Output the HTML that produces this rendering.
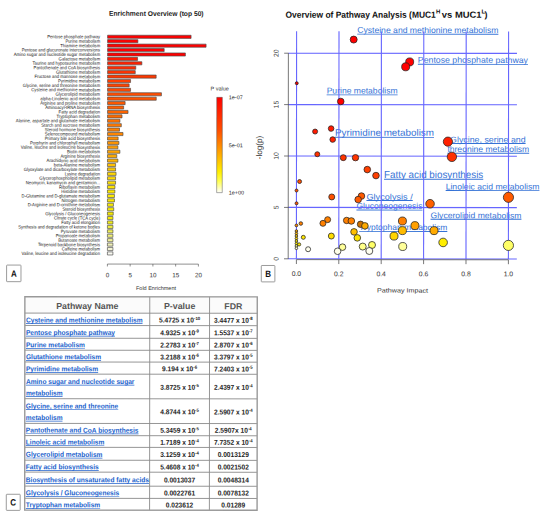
<!DOCTYPE html>
<html><head><meta charset="utf-8"><style>
html,body{margin:0;padding:0;background:#fff;}
svg{display:block;font-family:"Liberation Sans", sans-serif;text-rendering:geometricPrecision;}
</style></head><body>
<svg width="550" height="520" viewBox="0 0 550 520">
<rect width="550" height="520" fill="#fff"/>
<g transform="rotate(0.05 275 260)">
<g id="A">
<text x="108.80" y="16.00" font-size="6.9" fill="#222" font-weight="bold" textLength="94.60" lengthAdjust="spacingAndGlyphs" >Enrichment Overview (top 50)</text>
<rect x="107.4" y="35.35" width="83.5" height="3.1" fill="#ff0000" stroke="#4a4a4a" stroke-width="0.65"/>
<text x="100.00" y="38.50" font-size="4.7" fill="#111" text-anchor="end" textLength="53.01" lengthAdjust="spacingAndGlyphs" >Pentose phosphate pathway</text>
<rect x="107.4" y="39.77" width="30.3" height="3.1" fill="#ff0000" stroke="#4a4a4a" stroke-width="0.65"/>
<text x="100.00" y="42.92" font-size="4.7" fill="#111" text-anchor="end" textLength="34.78" lengthAdjust="spacingAndGlyphs" >Purine metabolism</text>
<rect x="107.4" y="44.19" width="98.5" height="3.1" fill="#ff0000" stroke="#4a4a4a" stroke-width="0.65"/>
<text x="100.00" y="47.34" font-size="4.7" fill="#111" text-anchor="end" textLength="39.92" lengthAdjust="spacingAndGlyphs" >Thiamine metabolism</text>
<rect x="107.4" y="48.62" width="56.6" height="3.1" fill="#ff0000" stroke="#4a4a4a" stroke-width="0.65"/>
<text x="100.00" y="51.77" font-size="4.7" fill="#111" text-anchor="end" textLength="78.45" lengthAdjust="spacingAndGlyphs" >Pentose and glucuronate interconversions</text>
<rect x="107.4" y="53.04" width="77.8" height="3.1" fill="#ff0000" stroke="#4a4a4a" stroke-width="0.65"/>
<text x="100.00" y="56.19" font-size="4.7" fill="#111" text-anchor="end" textLength="86.38" lengthAdjust="spacingAndGlyphs" >Amino sugar and nucleotide sugar metabolism</text>
<rect x="107.4" y="57.46" width="30.0" height="3.1" fill="#ff1900" stroke="#4a4a4a" stroke-width="0.65"/>
<text x="100.00" y="60.61" font-size="4.7" fill="#111" text-anchor="end" textLength="41.55" lengthAdjust="spacingAndGlyphs" >Galactose metabolism</text>
<rect x="107.4" y="61.88" width="34.3" height="3.1" fill="#ff2100" stroke="#4a4a4a" stroke-width="0.65"/>
<text x="100.00" y="65.03" font-size="4.7" fill="#111" text-anchor="end" textLength="67.71" lengthAdjust="spacingAndGlyphs" >Taurine and hypotaurine metabolism</text>
<rect x="107.4" y="66.30" width="28.2" height="3.1" fill="#ff2a00" stroke="#4a4a4a" stroke-width="0.65"/>
<text x="100.00" y="69.45" font-size="4.7" fill="#111" text-anchor="end" textLength="66.55" lengthAdjust="spacingAndGlyphs" >Pantothenate and CoA biosynthesis</text>
<rect x="107.4" y="70.73" width="27.7" height="3.1" fill="#ff3200" stroke="#4a4a4a" stroke-width="0.65"/>
<text x="100.00" y="73.88" font-size="4.7" fill="#111" text-anchor="end" textLength="44.12" lengthAdjust="spacingAndGlyphs" >Glutathione metabolism</text>
<rect x="107.4" y="75.15" width="48.6" height="3.1" fill="#ff3800" stroke="#4a4a4a" stroke-width="0.65"/>
<text x="100.00" y="78.30" font-size="4.7" fill="#111" text-anchor="end" textLength="65.60" lengthAdjust="spacingAndGlyphs" >Fructose and mannose metabolism</text>
<rect x="107.4" y="79.57" width="23.0" height="3.1" fill="#ff3d00" stroke="#4a4a4a" stroke-width="0.65"/>
<text x="100.00" y="82.72" font-size="4.7" fill="#111" text-anchor="end" textLength="42.25" lengthAdjust="spacingAndGlyphs" >Pyrimidine metabolism</text>
<rect x="107.4" y="83.99" width="21.6" height="3.1" fill="#ff4200" stroke="#4a4a4a" stroke-width="0.65"/>
<text x="100.00" y="87.14" font-size="4.7" fill="#111" text-anchor="end" textLength="77.28" lengthAdjust="spacingAndGlyphs" >Glycine, serine and threonine metabolism</text>
<rect x="107.4" y="88.41" width="23.0" height="3.1" fill="#ff4800" stroke="#4a4a4a" stroke-width="0.65"/>
<text x="100.00" y="91.56" font-size="4.7" fill="#111" text-anchor="end" textLength="68.87" lengthAdjust="spacingAndGlyphs" >Cysteine and methionine metabolism</text>
<rect x="107.4" y="92.84" width="53.9" height="3.1" fill="#ff4d00" stroke="#4a4a4a" stroke-width="0.65"/>
<text x="100.00" y="95.99" font-size="4.7" fill="#111" text-anchor="end" textLength="44.58" lengthAdjust="spacingAndGlyphs" >Glycerolipid metabolism</text>
<rect x="107.4" y="97.26" width="48.7" height="3.1" fill="#ff5200" stroke="#4a4a4a" stroke-width="0.65"/>
<text x="100.00" y="100.41" font-size="4.7" fill="#111" text-anchor="end" textLength="59.77" lengthAdjust="spacingAndGlyphs" >alpha-Linolenic acid metabolism</text>
<rect x="107.4" y="101.68" width="17.6" height="3.1" fill="#ff5800" stroke="#4a4a4a" stroke-width="0.65"/>
<text x="100.00" y="104.83" font-size="4.7" fill="#111" text-anchor="end" textLength="60.00" lengthAdjust="spacingAndGlyphs" >Arginine and proline metabolism</text>
<rect x="107.4" y="106.10" width="16.1" height="3.1" fill="#ff5e00" stroke="#4a4a4a" stroke-width="0.65"/>
<text x="100.00" y="109.25" font-size="4.7" fill="#111" text-anchor="end" textLength="54.86" lengthAdjust="spacingAndGlyphs" >Aminoacyl-tRNA biosynthesis</text>
<rect x="107.4" y="110.52" width="20.5" height="3.1" fill="#ff6400" stroke="#4a4a4a" stroke-width="0.65"/>
<text x="100.00" y="113.67" font-size="4.7" fill="#111" text-anchor="end" textLength="41.56" lengthAdjust="spacingAndGlyphs" >Fatty acid degradation</text>
<rect x="107.4" y="114.95" width="14.5" height="3.1" fill="#ff6b00" stroke="#4a4a4a" stroke-width="0.65"/>
<text x="100.00" y="118.10" font-size="4.7" fill="#111" text-anchor="end" textLength="43.73" lengthAdjust="spacingAndGlyphs" >Tryptophan metabolism</text>
<rect x="107.4" y="119.37" width="12.4" height="3.1" fill="#ff7100" stroke="#4a4a4a" stroke-width="0.65"/>
<text x="100.00" y="122.52" font-size="4.7" fill="#111" text-anchor="end" textLength="84.29" lengthAdjust="spacingAndGlyphs" >Alanine, aspartate and glutamate metabolism</text>
<rect x="107.4" y="123.79" width="13.8" height="3.1" fill="#ff7800" stroke="#4a4a4a" stroke-width="0.65"/>
<text x="100.00" y="126.94" font-size="4.7" fill="#111" text-anchor="end" textLength="58.83" lengthAdjust="spacingAndGlyphs" >Starch and sucrose metabolism</text>
<rect x="107.4" y="128.21" width="12.0" height="3.1" fill="#ff7f00" stroke="#4a4a4a" stroke-width="0.65"/>
<text x="100.00" y="131.36" font-size="4.7" fill="#111" text-anchor="end" textLength="55.33" lengthAdjust="spacingAndGlyphs" >Steroid hormone biosynthesis</text>
<rect x="107.4" y="132.63" width="15.5" height="3.1" fill="#ff8600" stroke="#4a4a4a" stroke-width="0.65"/>
<text x="100.00" y="135.78" font-size="4.7" fill="#111" text-anchor="end" textLength="55.33" lengthAdjust="spacingAndGlyphs" >Selenocompound metabolism</text>
<rect x="107.4" y="137.06" width="10.6" height="3.1" fill="#ff8d00" stroke="#4a4a4a" stroke-width="0.65"/>
<text x="100.00" y="140.21" font-size="4.7" fill="#111" text-anchor="end" textLength="55.32" lengthAdjust="spacingAndGlyphs" >Primary bile acid biosynthesis</text>
<rect x="107.4" y="141.48" width="11.4" height="3.1" fill="#ff9400" stroke="#4a4a4a" stroke-width="0.65"/>
<text x="100.00" y="144.63" font-size="4.7" fill="#111" text-anchor="end" textLength="70.04" lengthAdjust="spacingAndGlyphs" >Porphyrin and chlorophyll metabolism</text>
<rect x="107.4" y="145.90" width="10.4" height="3.1" fill="#ff9c00" stroke="#4a4a4a" stroke-width="0.65"/>
<text x="100.00" y="149.05" font-size="4.7" fill="#111" text-anchor="end" textLength="79.31" lengthAdjust="spacingAndGlyphs" >Valine, leucine and isoleucine biosynthesis</text>
<rect x="107.4" y="150.32" width="12.4" height="3.1" fill="#ffa400" stroke="#4a4a4a" stroke-width="0.65"/>
<text x="100.00" y="153.47" font-size="4.7" fill="#111" text-anchor="end" textLength="33.15" lengthAdjust="spacingAndGlyphs" >Biotin metabolism</text>
<rect x="107.4" y="154.74" width="9.3" height="3.1" fill="#ffac00" stroke="#4a4a4a" stroke-width="0.65"/>
<text x="100.00" y="157.89" font-size="4.7" fill="#111" text-anchor="end" textLength="39.69" lengthAdjust="spacingAndGlyphs" >Arginine biosynthesis</text>
<rect x="107.4" y="159.17" width="10.4" height="3.1" fill="#ffb400" stroke="#4a4a4a" stroke-width="0.65"/>
<text x="100.00" y="162.32" font-size="4.7" fill="#111" text-anchor="end" textLength="53.46" lengthAdjust="spacingAndGlyphs" >Arachidonic acid metabolism</text>
<rect x="107.4" y="163.59" width="8.1" height="3.1" fill="#ffc000" stroke="#4a4a4a" stroke-width="0.65"/>
<text x="100.00" y="166.74" font-size="4.7" fill="#111" text-anchor="end" textLength="46.23" lengthAdjust="spacingAndGlyphs" >beta-Alanine metabolism</text>
<rect x="107.4" y="168.01" width="8.1" height="3.1" fill="#ffcb00" stroke="#4a4a4a" stroke-width="0.65"/>
<text x="100.00" y="171.16" font-size="4.7" fill="#111" text-anchor="end" textLength="76.34" lengthAdjust="spacingAndGlyphs" >Glyoxylate and dicarboxylate metabolism</text>
<rect x="107.4" y="172.43" width="8.6" height="3.1" fill="#ffd700" stroke="#4a4a4a" stroke-width="0.65"/>
<text x="100.00" y="175.58" font-size="4.7" fill="#111" text-anchor="end" textLength="35.34" lengthAdjust="spacingAndGlyphs" >Lysine degradation</text>
<rect x="107.4" y="176.85" width="8.1" height="3.1" fill="#ffdc00" stroke="#4a4a4a" stroke-width="0.65"/>
<text x="100.00" y="180.00" font-size="4.7" fill="#111" text-anchor="end" textLength="60.70" lengthAdjust="spacingAndGlyphs" >Glycerophospholipid metabolism</text>
<rect x="107.4" y="181.28" width="8.1" height="3.1" fill="#ffe100" stroke="#4a4a4a" stroke-width="0.65"/>
<text x="100.00" y="184.43" font-size="4.7" fill="#111" text-anchor="end" textLength="74.24" lengthAdjust="spacingAndGlyphs" >Neomycin, kanamycin and gentamicin...</text>
<rect x="107.4" y="185.70" width="7.5" height="3.1" fill="#ffe600" stroke="#4a4a4a" stroke-width="0.65"/>
<text x="100.00" y="188.85" font-size="4.7" fill="#111" text-anchor="end" textLength="41.08" lengthAdjust="spacingAndGlyphs" >Riboflavin metabolism</text>
<rect x="107.4" y="190.12" width="7.4" height="3.1" fill="#ffeb00" stroke="#4a4a4a" stroke-width="0.65"/>
<text x="100.00" y="193.27" font-size="4.7" fill="#111" text-anchor="end" textLength="38.75" lengthAdjust="spacingAndGlyphs" >Histidine metabolism</text>
<rect x="107.4" y="194.54" width="7.0" height="3.1" fill="#fdeb00" stroke="#4a4a4a" stroke-width="0.65"/>
<text x="100.00" y="197.69" font-size="4.7" fill="#111" text-anchor="end" textLength="78.43" lengthAdjust="spacingAndGlyphs" >D-Glutamine and D-glutamate metabolism</text>
<rect x="107.4" y="198.96" width="7.0" height="3.1" fill="#fceb00" stroke="#4a4a4a" stroke-width="0.65"/>
<text x="100.00" y="202.11" font-size="4.7" fill="#111" text-anchor="end" textLength="38.52" lengthAdjust="spacingAndGlyphs" >Nitrogen metabolism</text>
<rect x="107.4" y="203.39" width="6.0" height="3.1" fill="#faeb00" stroke="#4a4a4a" stroke-width="0.65"/>
<text x="100.00" y="206.54" font-size="4.7" fill="#111" text-anchor="end" textLength="72.37" lengthAdjust="spacingAndGlyphs" >D-Arginine and D-ornithine metabolism</text>
<rect x="107.4" y="207.81" width="6.3" height="3.1" fill="#f8eb00" stroke="#4a4a4a" stroke-width="0.65"/>
<text x="100.00" y="210.96" font-size="4.7" fill="#111" text-anchor="end" textLength="37.59" lengthAdjust="spacingAndGlyphs" >Steroid biosynthesis</text>
<rect x="107.4" y="212.23" width="5.8" height="3.1" fill="#f7eb00" stroke="#4a4a4a" stroke-width="0.65"/>
<text x="100.00" y="215.38" font-size="4.7" fill="#111" text-anchor="end" textLength="54.86" lengthAdjust="spacingAndGlyphs" >Glycolysis / Gluconeogenesis</text>
<rect x="107.4" y="216.65" width="5.5" height="3.1" fill="#f5eb00" stroke="#4a4a4a" stroke-width="0.65"/>
<text x="100.00" y="219.80" font-size="4.7" fill="#111" text-anchor="end" textLength="45.98" lengthAdjust="spacingAndGlyphs" >Citrate cycle (TCA cycle)</text>
<rect x="107.4" y="221.07" width="5.5" height="3.1" fill="#f2ec1e" stroke="#4a4a4a" stroke-width="0.65"/>
<text x="100.00" y="224.22" font-size="4.7" fill="#111" text-anchor="end" textLength="38.76" lengthAdjust="spacingAndGlyphs" >Fatty acid elongation</text>
<rect x="107.4" y="225.50" width="5.5" height="3.1" fill="#f0ee3c" stroke="#4a4a4a" stroke-width="0.65"/>
<text x="100.00" y="228.65" font-size="4.7" fill="#111" text-anchor="end" textLength="81.73" lengthAdjust="spacingAndGlyphs" >Synthesis and degradation of ketone bodies</text>
<rect x="107.4" y="229.92" width="5.5" height="3.1" fill="#f0ef5a" stroke="#4a4a4a" stroke-width="0.65"/>
<text x="100.00" y="233.07" font-size="4.7" fill="#111" text-anchor="end" textLength="39.22" lengthAdjust="spacingAndGlyphs" >Pyruvate metabolism</text>
<rect x="107.4" y="234.34" width="5.5" height="3.1" fill="#f0f078" stroke="#4a4a4a" stroke-width="0.65"/>
<text x="100.00" y="237.49" font-size="4.7" fill="#111" text-anchor="end" textLength="44.36" lengthAdjust="spacingAndGlyphs" >Propanoate metabolism</text>
<rect x="107.4" y="238.76" width="5.5" height="3.1" fill="#f0f098" stroke="#4a4a4a" stroke-width="0.65"/>
<text x="100.00" y="241.91" font-size="4.7" fill="#111" text-anchor="end" textLength="41.79" lengthAdjust="spacingAndGlyphs" >Butanoate metabolism</text>
<rect x="107.4" y="243.18" width="5.5" height="3.1" fill="#f0f0b9" stroke="#4a4a4a" stroke-width="0.65"/>
<text x="100.00" y="246.33" font-size="4.7" fill="#111" text-anchor="end" textLength="62.11" lengthAdjust="spacingAndGlyphs" >Terpenoid backbone biosynthesis</text>
<rect x="107.4" y="247.61" width="5.5" height="3.1" fill="#f4f4d4" stroke="#4a4a4a" stroke-width="0.65"/>
<text x="100.00" y="250.76" font-size="4.7" fill="#111" text-anchor="end" textLength="38.21" lengthAdjust="spacingAndGlyphs" >Caffeine metabolism</text>
<rect x="107.4" y="252.03" width="5.5" height="3.1" fill="#f8f8f0" stroke="#4a4a4a" stroke-width="0.65"/>
<text x="100.00" y="255.18" font-size="4.7" fill="#111" text-anchor="end" textLength="78.38" lengthAdjust="spacingAndGlyphs" >Valine, leucine and isoleucine degradation</text>
<path d="M107.4 264.2H198.4M107.4 264.2v2.4M130.15 264.2v2.4M152.9 264.2v2.4M175.65 264.2v2.4M198.4 264.2v2.4" stroke="#444" stroke-width="0.6" fill="none"/>
<text x="107.40" y="277.30" font-size="6.3" fill="#333" text-anchor="middle" >0</text>
<text x="130.15" y="277.30" font-size="6.3" fill="#333" text-anchor="middle" >5</text>
<text x="152.90" y="277.30" font-size="6.3" fill="#333" text-anchor="middle" >10</text>
<text x="175.65" y="277.30" font-size="6.3" fill="#333" text-anchor="middle" >15</text>
<text x="198.40" y="277.30" font-size="6.3" fill="#333" text-anchor="middle" >20</text>
<text x="156.00" y="290.20" font-size="5.5" fill="#333" text-anchor="middle" textLength="40.00" lengthAdjust="spacingAndGlyphs" >Fold Enrichment</text>
<text x="210.40" y="90.60" font-size="5.5" fill="#333" >P value</text>
<defs><linearGradient id="pg" x1="0" y1="0" x2="0" y2="1"><stop offset="0" stop-color="#ff0000"/><stop offset="0.35" stop-color="#ff5000"/><stop offset="0.55" stop-color="#ff9a00"/><stop offset="0.78" stop-color="#ffee00"/><stop offset="0.88" stop-color="#ffff50"/><stop offset="1" stop-color="#ffffff"/></linearGradient></defs>
<rect x="216.6" y="97.4" width="5.6" height="95.3" fill="url(#pg)" stroke="#555" stroke-width="0.5"/>
<text x="228.60" y="99.30" font-size="5.5" fill="#222" >1e-07</text>
<text x="228.60" y="147.30" font-size="5.5" fill="#222" >5e-01</text>
<text x="228.60" y="194.60" font-size="5.5" fill="#222" >1e+00</text>
</g>
<rect x="6.6" y="265.3" width="14.4" height="16.6" rx="0.6" fill="#fff" stroke="#8a8a8a" stroke-width="0.85"/>
<text x="10.91" y="276.90" font-size="9.2" fill="#111" font-weight="bold" textLength="5.77" lengthAdjust="spacingAndGlyphs" >A</text>
<rect x="261.3" y="265.5" width="13.6" height="16.4" rx="0.6" fill="#fff" stroke="#8a8a8a" stroke-width="0.85"/>
<text x="265.21" y="277.00" font-size="9.2" fill="#111" font-weight="bold" textLength="5.77" lengthAdjust="spacingAndGlyphs" >B</text>
<rect x="6.5" y="494.5" width="13.9" height="16.1" rx="0.6" fill="#fff" stroke="#8a8a8a" stroke-width="0.85"/>
<text x="10.56" y="505.85" font-size="9.2" fill="#111" font-weight="bold" textLength="5.77" lengthAdjust="spacingAndGlyphs" >C</text>
<g id="B">
<text x="285.30" y="17.70" font-size="8.9" fill="#111" font-weight="bold" textLength="150.30" lengthAdjust="spacingAndGlyphs" >Overview of Pathway Analysis (MUC1</text>
<text x="435.80" y="13.40" font-size="6.0" fill="#111" font-weight="bold" >H</text>
<text x="441.60" y="17.70" font-size="8.9" fill="#111" font-weight="bold" textLength="39.80" lengthAdjust="spacingAndGlyphs" > vs MUC1</text>
<text x="481.30" y="13.40" font-size="6.0" fill="#111" font-weight="bold" >L</text>
<text x="484.40" y="17.70" font-size="8.9" fill="#111" font-weight="bold" >)</text>
<text x="357.00" y="32.80" font-size="8.4" fill="#3472d6" textLength="141.20" lengthAdjust="spacingAndGlyphs" >Cysteine and methionine metabolism</text>
<rect x="357.00" y="33.65" width="141.20" height="0.9" fill="#3472d6"/>
<text x="417.70" y="62.70" font-size="8.4" fill="#3472d6" textLength="110.10" lengthAdjust="spacingAndGlyphs" >Pentose phosphate pathway</text>
<rect x="417.70" y="63.75" width="110.10" height="0.9" fill="#3472d6"/>
<text x="326.50" y="93.50" font-size="8.4" fill="#3472d6" textLength="71.00" lengthAdjust="spacingAndGlyphs" >Purine metabolism</text>
<rect x="326.50" y="94.35" width="71.00" height="0.9" fill="#3472d6"/>
<text x="334.80" y="135.60" font-size="9.4" fill="#3472d6" textLength="99.10" lengthAdjust="spacingAndGlyphs" >Pyrimidine metabolism</text>
<rect x="334.80" y="136.75" width="99.10" height="0.9" fill="#3472d6"/>
<text x="450.00" y="142.40" font-size="8.4" fill="#3472d6" textLength="75.50" lengthAdjust="spacingAndGlyphs" >Glycine, serine and</text>
<rect x="450.00" y="142.85" width="75.50" height="0.9" fill="#3472d6"/>
<text x="447.30" y="151.80" font-size="8.4" fill="#3472d6" textLength="81.80" lengthAdjust="spacingAndGlyphs" >threonine metabolism</text>
<rect x="447.30" y="152.65" width="81.80" height="0.9" fill="#3472d6"/>
<text x="384.00" y="177.80" font-size="10.2" fill="#3472d6" textLength="99.20" lengthAdjust="spacingAndGlyphs" >Fatty acid biosynthesis</text>
<rect x="384.00" y="178.65" width="99.20" height="0.9" fill="#3472d6"/>
<text x="445.60" y="189.40" font-size="8.4" fill="#3472d6" textLength="93.80" lengthAdjust="spacingAndGlyphs" >Linoleic acid metabolism</text>
<rect x="445.60" y="189.95" width="93.80" height="0.9" fill="#3472d6"/>
<text x="366.40" y="199.60" font-size="8.4" fill="#3472d6" textLength="46.30" lengthAdjust="spacingAndGlyphs" >Glycolysis /</text>
<rect x="366.40" y="199.95" width="46.30" height="0.9" fill="#3472d6"/>
<text x="356.40" y="208.70" font-size="8.4" fill="#3472d6" textLength="66.00" lengthAdjust="spacingAndGlyphs" >Gluconeogenesis</text>
<rect x="356.40" y="209.55" width="66.00" height="0.9" fill="#3472d6"/>
<text x="430.50" y="218.20" font-size="8.4" fill="#3472d6" textLength="90.90" lengthAdjust="spacingAndGlyphs" >Glycerolipid metabolism</text>
<rect x="430.50" y="218.65" width="90.90" height="0.9" fill="#3472d6"/>
<text x="359.10" y="230.00" font-size="8.4" fill="#3472d6" textLength="88.20" lengthAdjust="spacingAndGlyphs" >Tryptophan metabolism</text>
<rect x="359.10" y="230.85" width="88.20" height="0.9" fill="#3472d6"/>
<line x1="296.40" y1="31.3" x2="296.40" y2="258.80" stroke="#6666ff" stroke-width="1.1"/>
<line x1="338.80" y1="31.3" x2="338.80" y2="258.80" stroke="#6666ff" stroke-width="1.1"/>
<line x1="381.20" y1="31.3" x2="381.20" y2="258.80" stroke="#6666ff" stroke-width="1.1"/>
<line x1="423.60" y1="31.3" x2="423.60" y2="258.80" stroke="#6666ff" stroke-width="1.1"/>
<line x1="466.00" y1="31.3" x2="466.00" y2="258.80" stroke="#6666ff" stroke-width="1.1"/>
<line x1="508.40" y1="31.3" x2="508.40" y2="258.80" stroke="#6666ff" stroke-width="1.1"/>
<line x1="288" y1="258.80" x2="516.8" y2="258.80" stroke="#6666ff" stroke-width="1.1"/>
<line x1="288" y1="207.40" x2="516.8" y2="207.40" stroke="#6666ff" stroke-width="1.1"/>
<line x1="288" y1="156.00" x2="516.8" y2="156.00" stroke="#6666ff" stroke-width="1.1"/>
<line x1="288" y1="104.60" x2="516.8" y2="104.60" stroke="#6666ff" stroke-width="1.1"/>
<line x1="288" y1="53.20" x2="516.8" y2="53.20" stroke="#6666ff" stroke-width="1.1"/>
<path d="M288.2 53.2V258.80M284 258.80H288.2M284 207.40H288.2M284 156.00H288.2M284 104.60H288.2M284 53.20H288.2" stroke="#555" stroke-width="0.8" fill="none"/>
<path d="M296.4 259.6H508.40M296.40 259.6V264M338.80 259.6V264M381.20 259.6V264M423.60 259.6V264M466.00 259.6V264M508.40 259.6V264" stroke="#555" stroke-width="0.8" fill="none"/>
<text transform="translate(278.4 258.80) rotate(-90)" x="0" y="0" font-size="6.8" fill="#333" text-anchor="middle">0</text>
<text transform="translate(278.4 207.40) rotate(-90)" x="0" y="0" font-size="6.8" fill="#333" text-anchor="middle">5</text>
<text transform="translate(278.4 156.00) rotate(-90)" x="0" y="0" font-size="6.8" fill="#333" text-anchor="middle">10</text>
<text transform="translate(278.4 104.60) rotate(-90)" x="0" y="0" font-size="6.8" fill="#333" text-anchor="middle">15</text>
<text transform="translate(278.4 53.20) rotate(-90)" x="0" y="0" font-size="6.8" fill="#333" text-anchor="middle">20</text>
<text x="296.40" y="276.10" font-size="6.8" fill="#333" text-anchor="middle" >0.0</text>
<text x="338.80" y="276.10" font-size="6.8" fill="#333" text-anchor="middle" >0.2</text>
<text x="381.20" y="276.10" font-size="6.8" fill="#333" text-anchor="middle" >0.4</text>
<text x="423.60" y="276.10" font-size="6.8" fill="#333" text-anchor="middle" >0.6</text>
<text x="466.00" y="276.10" font-size="6.8" fill="#333" text-anchor="middle" >0.8</text>
<text x="508.40" y="276.10" font-size="6.8" fill="#333" text-anchor="middle" >1.0</text>
<text transform="translate(262.0 147.5) rotate(-90)" x="0" y="0" font-size="8.2" fill="#333" text-anchor="middle">-log(p)</text>
<text x="402.50" y="292.50" font-size="6.2" fill="#333" text-anchor="middle" textLength="51.00" lengthAdjust="spacingAndGlyphs" >Pathway Impact</text>
<circle cx="353.5" cy="39.5" r="3.5" fill="#ff0000" stroke="#222" stroke-width="0.75"/>
<circle cx="409.5" cy="61.8" r="4" fill="#ff0000" stroke="#222" stroke-width="0.75"/>
<circle cx="405.5" cy="66.7" r="4" fill="#ff0000" stroke="#222" stroke-width="0.75"/>
<circle cx="296.6" cy="83.2" r="1.5" fill="#ee0000" stroke="#222" stroke-width="0.75"/>
<circle cx="340.6" cy="101.4" r="3.3" fill="#ff0000" stroke="#222" stroke-width="0.75"/>
<circle cx="315" cy="131.5" r="2.5" fill="#ff1a00" stroke="#222" stroke-width="0.75"/>
<circle cx="331" cy="128.5" r="2.8" fill="#ff1a00" stroke="#222" stroke-width="0.75"/>
<circle cx="332.6" cy="139.5" r="2.8" fill="#ff2000" stroke="#222" stroke-width="0.75"/>
<circle cx="317.2" cy="154.2" r="2.5" fill="#ff3000" stroke="#222" stroke-width="0.75"/>
<circle cx="343.2" cy="157.6" r="3" fill="#ff3300" stroke="#222" stroke-width="0.75"/>
<circle cx="355.4" cy="157.6" r="3.2" fill="#ff3300" stroke="#222" stroke-width="0.75"/>
<circle cx="367.2" cy="169.5" r="3.3" fill="#ff4000" stroke="#222" stroke-width="0.75"/>
<circle cx="375.9" cy="175.5" r="3.3" fill="#ff4000" stroke="#222" stroke-width="0.75"/>
<circle cx="447.8" cy="141.5" r="4.6" fill="#ff2000" stroke="#222" stroke-width="0.75"/>
<circle cx="451.8" cy="156.7" r="4.7" fill="#ff3000" stroke="#222" stroke-width="0.75"/>
<circle cx="299.5" cy="181.5" r="2" fill="#ff5000" stroke="#222" stroke-width="0.75"/>
<circle cx="296.5" cy="190.5" r="1.5" fill="#ff5000" stroke="#222" stroke-width="0.75"/>
<circle cx="296.5" cy="203.3" r="1.5" fill="#ff5500" stroke="#222" stroke-width="0.75"/>
<circle cx="331.7" cy="196.9" r="3" fill="#ff5000" stroke="#222" stroke-width="0.75"/>
<circle cx="361.4" cy="196" r="3.3" fill="#ff5a00" stroke="#222" stroke-width="0.75"/>
<circle cx="358.1" cy="199.5" r="3.3" fill="#ff5a00" stroke="#222" stroke-width="0.75"/>
<circle cx="430" cy="203.6" r="4.3" fill="#ff6000" stroke="#222" stroke-width="0.75"/>
<circle cx="508.4" cy="197.1" r="5.1" fill="#ff5a00" stroke="#222" stroke-width="0.75"/>
<circle cx="327.6" cy="219.6" r="3" fill="#ff8000" stroke="#222" stroke-width="0.75"/>
<circle cx="322.9" cy="223.3" r="3" fill="#ff8000" stroke="#222" stroke-width="0.75"/>
<circle cx="346.6" cy="220.4" r="3.2" fill="#ff8000" stroke="#222" stroke-width="0.75"/>
<circle cx="351.3" cy="220.9" r="3.3" fill="#ff8000" stroke="#222" stroke-width="0.75"/>
<circle cx="360.5" cy="224.2" r="3.2" fill="#cc7000" stroke="#222" stroke-width="0.75"/>
<circle cx="364.9" cy="225.8" r="3.3" fill="#ffaa00" stroke="#222" stroke-width="0.75"/>
<circle cx="300.8" cy="223.5" r="1.8" fill="#ff8000" stroke="#222" stroke-width="0.75"/>
<circle cx="296.4" cy="225.4" r="1.4" fill="#ff8800" stroke="#222" stroke-width="0.75"/>
<circle cx="402.4" cy="220.9" r="4" fill="#ff8000" stroke="#222" stroke-width="0.75"/>
<circle cx="414.9" cy="225.5" r="4" fill="#ffa000" stroke="#222" stroke-width="0.75"/>
<circle cx="402.4" cy="230.5" r="4" fill="#ffbb00" stroke="#222" stroke-width="0.75"/>
<circle cx="434" cy="230.5" r="4" fill="#ffaa00" stroke="#222" stroke-width="0.75"/>
<circle cx="354" cy="231.8" r="3.3" fill="#ffc000" stroke="#222" stroke-width="0.75"/>
<circle cx="357.3" cy="237.8" r="3.3" fill="#ffe600" stroke="#222" stroke-width="0.75"/>
<circle cx="331.3" cy="236" r="3" fill="#ffdd00" stroke="#222" stroke-width="0.75"/>
<circle cx="303.3" cy="237.3" r="2" fill="#ffe600" stroke="#222" stroke-width="0.75"/>
<circle cx="394" cy="236" r="4" fill="#ffd500" stroke="#222" stroke-width="0.75"/>
<circle cx="443.1" cy="242.3" r="4.3" fill="#ffee00" stroke="#222" stroke-width="0.75"/>
<circle cx="402.7" cy="246.4" r="4" fill="#ffff99" stroke="#222" stroke-width="0.75"/>
<circle cx="508.4" cy="245.2" r="5.1" fill="#ffff66" stroke="#222" stroke-width="0.75"/>
<circle cx="296.4" cy="231" r="1.3" fill="#ffaa00" stroke="#222" stroke-width="0.75"/>
<circle cx="296.4" cy="233.5" r="1.3" fill="#ffbb00" stroke="#222" stroke-width="0.75"/>
<circle cx="296.4" cy="236" r="1.3" fill="#ffcc00" stroke="#222" stroke-width="0.75"/>
<circle cx="296.4" cy="238.5" r="1.3" fill="#ffdd00" stroke="#222" stroke-width="0.75"/>
<circle cx="296.4" cy="241" r="1.3" fill="#ffee00" stroke="#222" stroke-width="0.75"/>
<circle cx="296.4" cy="243.5" r="1.3" fill="#ffee00" stroke="#222" stroke-width="0.75"/>
<circle cx="296.4" cy="246" r="1.3" fill="#ffff88" stroke="#222" stroke-width="0.75"/>
<circle cx="296.4" cy="248.3" r="1.3" fill="#ffffcc" stroke="#222" stroke-width="0.75"/>
<circle cx="299.1" cy="244.4" r="1.6" fill="#ffee00" stroke="#222" stroke-width="0.75"/>
<circle cx="308.1" cy="249.2" r="2.5" fill="#ffffee" stroke="#222" stroke-width="0.75"/>
<circle cx="342.5" cy="247.1" r="3.3" fill="#ffff99" stroke="#222" stroke-width="0.75"/>
<circle cx="337.6" cy="251.2" r="3.3" fill="#ffffe8" stroke="#222" stroke-width="0.75"/>
<circle cx="362.7" cy="246.5" r="3.5" fill="#ffff88" stroke="#222" stroke-width="0.75"/>
<circle cx="372" cy="244.9" r="3.5" fill="#ffff66" stroke="#222" stroke-width="0.75"/>
<circle cx="369.3" cy="250.9" r="3.5" fill="#fffff0" stroke="#222" stroke-width="0.75"/>
</g>
<g id="C">
<rect x="24.9" y="296.9" width="232.4" height="16.4" fill="#fbfbfb"/>
<line x1="24.9" y1="313.3" x2="257.3" y2="313.3" stroke="#8a8a8a" stroke-width="0.9"/>
<line x1="24.9" y1="325.7" x2="257.3" y2="325.7" stroke="#8a8a8a" stroke-width="0.9"/>
<line x1="24.9" y1="338.4" x2="257.3" y2="338.4" stroke="#8a8a8a" stroke-width="0.9"/>
<line x1="24.9" y1="350.4" x2="257.3" y2="350.4" stroke="#8a8a8a" stroke-width="0.9"/>
<line x1="24.9" y1="362.2" x2="257.3" y2="362.2" stroke="#8a8a8a" stroke-width="0.9"/>
<line x1="24.9" y1="374.3" x2="257.3" y2="374.3" stroke="#8a8a8a" stroke-width="0.9"/>
<line x1="24.9" y1="398.9" x2="257.3" y2="398.9" stroke="#8a8a8a" stroke-width="0.9"/>
<line x1="24.9" y1="423.6" x2="257.3" y2="423.6" stroke="#8a8a8a" stroke-width="0.9"/>
<line x1="24.9" y1="435.8" x2="257.3" y2="435.8" stroke="#8a8a8a" stroke-width="0.9"/>
<line x1="24.9" y1="447.5" x2="257.3" y2="447.5" stroke="#8a8a8a" stroke-width="0.9"/>
<line x1="24.9" y1="460.4" x2="257.3" y2="460.4" stroke="#8a8a8a" stroke-width="0.9"/>
<line x1="24.9" y1="472.3" x2="257.3" y2="472.3" stroke="#8a8a8a" stroke-width="0.9"/>
<line x1="24.9" y1="486.3" x2="257.3" y2="486.3" stroke="#8a8a8a" stroke-width="0.9"/>
<line x1="24.9" y1="498.5" x2="257.3" y2="498.5" stroke="#8a8a8a" stroke-width="0.9"/>
<line x1="149.8" y1="296.9" x2="149.8" y2="510.3" stroke="#8a8a8a" stroke-width="0.9"/>
<line x1="209.6" y1="296.9" x2="209.6" y2="510.3" stroke="#8a8a8a" stroke-width="0.9"/>
<rect x="24.9" y="296.9" width="232.4" height="213.4" fill="none" stroke="#999" stroke-width="1.4"/>
<text x="87.35" y="309.20" font-size="8.8" fill="#555" font-weight="bold" text-anchor="middle" >Pathway Name</text>
<text x="179.70" y="309.20" font-size="8.8" fill="#555" font-weight="bold" text-anchor="middle" >P-value</text>
<text x="233.45" y="309.20" font-size="8.8" fill="#555" font-weight="bold" text-anchor="middle" >FDR</text>
<text x="26.00" y="322.60" font-size="7.1" fill="#2262cc" font-weight="bold" textLength="116.58" lengthAdjust="spacingAndGlyphs" >Cysteine and methionine metabolism</text>
<rect x="26" y="323.40" width="116.58" height="0.7" fill="#2262cc"/>
<text x="159.16" y="322.70" font-size="7.1" font-weight="bold" fill="#222" textLength="34.87" lengthAdjust="spacingAndGlyphs">5.4725 x 10</text>
<text x="194.03" y="320.10" font-size="4.5" font-weight="bold" fill="#222" textLength="6.22" lengthAdjust="spacingAndGlyphs">-10</text>
<text x="214.10" y="322.70" font-size="7.1" font-weight="bold" fill="#222" textLength="34.87" lengthAdjust="spacingAndGlyphs">3.4477 x 10</text>
<text x="248.97" y="320.10" font-size="4.5" font-weight="bold" fill="#222" textLength="3.82" lengthAdjust="spacingAndGlyphs">-8</text>
<text x="26.00" y="335.15" font-size="7.1" fill="#2262cc" font-weight="bold" textLength="89.09" lengthAdjust="spacingAndGlyphs" >Pentose phosphate pathway</text>
<rect x="26" y="335.95" width="89.09" height="0.7" fill="#2262cc"/>
<text x="160.35" y="335.25" font-size="7.1" font-weight="bold" fill="#222" textLength="34.87" lengthAdjust="spacingAndGlyphs">4.9325 x 10</text>
<text x="195.22" y="332.65" font-size="4.5" font-weight="bold" fill="#222" textLength="3.82" lengthAdjust="spacingAndGlyphs">-9</text>
<text x="214.10" y="335.25" font-size="7.1" font-weight="bold" fill="#222" textLength="34.87" lengthAdjust="spacingAndGlyphs">1.5537 x 10</text>
<text x="248.97" y="332.65" font-size="4.5" font-weight="bold" fill="#222" textLength="3.82" lengthAdjust="spacingAndGlyphs">-7</text>
<text x="26.00" y="347.50" font-size="7.1" fill="#2262cc" font-weight="bold" textLength="59.03" lengthAdjust="spacingAndGlyphs" >Purine metabolism</text>
<rect x="26" y="348.30" width="59.03" height="0.7" fill="#2262cc"/>
<text x="160.35" y="347.60" font-size="7.1" font-weight="bold" fill="#222" textLength="34.87" lengthAdjust="spacingAndGlyphs">2.2783 x 10</text>
<text x="195.22" y="345.00" font-size="4.5" font-weight="bold" fill="#222" textLength="3.82" lengthAdjust="spacingAndGlyphs">-7</text>
<text x="214.10" y="347.60" font-size="7.1" font-weight="bold" fill="#222" textLength="34.87" lengthAdjust="spacingAndGlyphs">2.8707 x 10</text>
<text x="248.97" y="345.00" font-size="4.5" font-weight="bold" fill="#222" textLength="3.82" lengthAdjust="spacingAndGlyphs">-6</text>
<text x="26.00" y="359.40" font-size="7.1" fill="#2262cc" font-weight="bold" textLength="75.15" lengthAdjust="spacingAndGlyphs" >Glutathione metabolism</text>
<rect x="26" y="360.20" width="75.15" height="0.7" fill="#2262cc"/>
<text x="160.35" y="359.50" font-size="7.1" font-weight="bold" fill="#222" textLength="34.87" lengthAdjust="spacingAndGlyphs">3.2188 x 10</text>
<text x="195.22" y="356.90" font-size="4.5" font-weight="bold" fill="#222" textLength="3.82" lengthAdjust="spacingAndGlyphs">-6</text>
<text x="214.10" y="359.50" font-size="7.1" font-weight="bold" fill="#222" textLength="34.87" lengthAdjust="spacingAndGlyphs">3.3797 x 10</text>
<text x="248.97" y="356.90" font-size="4.5" font-weight="bold" fill="#222" textLength="3.82" lengthAdjust="spacingAndGlyphs">-5</text>
<text x="26.00" y="371.35" font-size="7.1" fill="#2262cc" font-weight="bold" textLength="72.23" lengthAdjust="spacingAndGlyphs" >Pyrimidine metabolism</text>
<rect x="26" y="372.15" width="72.23" height="0.7" fill="#2262cc"/>
<text x="162.19" y="371.45" font-size="7.1" font-weight="bold" fill="#222" textLength="31.20" lengthAdjust="spacingAndGlyphs">9.194 x 10</text>
<text x="193.39" y="368.85" font-size="4.5" font-weight="bold" fill="#222" textLength="3.82" lengthAdjust="spacingAndGlyphs">-6</text>
<text x="214.10" y="371.45" font-size="7.1" font-weight="bold" fill="#222" textLength="34.87" lengthAdjust="spacingAndGlyphs">7.2403 x 10</text>
<text x="248.97" y="368.85" font-size="4.5" font-weight="bold" fill="#222" textLength="3.82" lengthAdjust="spacingAndGlyphs">-5</text>
<text x="26.00" y="384.10" font-size="7.1" fill="#2262cc" font-weight="bold" textLength="108.51" lengthAdjust="spacingAndGlyphs" >Amino sugar and nucleotide sugar</text>
<rect x="26" y="384.90" width="108.51" height="0.7" fill="#2262cc"/>
<text x="26.00" y="395.60" font-size="7.1" fill="#2262cc" font-weight="bold" textLength="36.66" lengthAdjust="spacingAndGlyphs" >metabolism</text>
<rect x="26" y="396.40" width="36.66" height="0.7" fill="#2262cc"/>
<text x="160.35" y="389.80" font-size="7.1" font-weight="bold" fill="#222" textLength="34.87" lengthAdjust="spacingAndGlyphs">3.8725 x 10</text>
<text x="195.22" y="387.20" font-size="4.5" font-weight="bold" fill="#222" textLength="3.82" lengthAdjust="spacingAndGlyphs">-5</text>
<text x="214.10" y="389.80" font-size="7.1" font-weight="bold" fill="#222" textLength="34.87" lengthAdjust="spacingAndGlyphs">2.4397 x 10</text>
<text x="248.97" y="387.20" font-size="4.5" font-weight="bold" fill="#222" textLength="3.82" lengthAdjust="spacingAndGlyphs">-4</text>
<text x="26.00" y="408.75" font-size="7.1" fill="#2262cc" font-weight="bold" textLength="92.39" lengthAdjust="spacingAndGlyphs" >Glycine, serine and threonine</text>
<rect x="26" y="409.55" width="92.39" height="0.7" fill="#2262cc"/>
<text x="26.00" y="420.25" font-size="7.1" fill="#2262cc" font-weight="bold" textLength="36.66" lengthAdjust="spacingAndGlyphs" >metabolism</text>
<rect x="26" y="421.05" width="36.66" height="0.7" fill="#2262cc"/>
<text x="160.35" y="414.45" font-size="7.1" font-weight="bold" fill="#222" textLength="34.87" lengthAdjust="spacingAndGlyphs">4.8744 x 10</text>
<text x="195.22" y="411.85" font-size="4.5" font-weight="bold" fill="#222" textLength="3.82" lengthAdjust="spacingAndGlyphs">-5</text>
<text x="214.10" y="414.45" font-size="7.1" font-weight="bold" fill="#222" textLength="34.87" lengthAdjust="spacingAndGlyphs">2.5907 x 10</text>
<text x="248.97" y="411.85" font-size="4.5" font-weight="bold" fill="#222" textLength="3.82" lengthAdjust="spacingAndGlyphs">-4</text>
<text x="26.00" y="432.80" font-size="7.1" fill="#2262cc" font-weight="bold" textLength="112.66" lengthAdjust="spacingAndGlyphs" >Pantothenate and CoA biosynthesis</text>
<rect x="26" y="433.60" width="112.66" height="0.7" fill="#2262cc"/>
<text x="160.35" y="432.90" font-size="7.1" font-weight="bold" fill="#222" textLength="34.87" lengthAdjust="spacingAndGlyphs">5.3459 x 10</text>
<text x="195.22" y="430.30" font-size="4.5" font-weight="bold" fill="#222" textLength="3.82" lengthAdjust="spacingAndGlyphs">-5</text>
<text x="215.02" y="432.90" font-size="7.1" font-weight="bold" fill="#222" textLength="33.03" lengthAdjust="spacingAndGlyphs">2.5907x 10</text>
<text x="248.05" y="430.30" font-size="4.5" font-weight="bold" fill="#222" textLength="3.82" lengthAdjust="spacingAndGlyphs">-4</text>
<text x="26.00" y="444.75" font-size="7.1" fill="#2262cc" font-weight="bold" textLength="78.46" lengthAdjust="spacingAndGlyphs" >Linoleic acid metabolism</text>
<rect x="26" y="445.55" width="78.46" height="0.7" fill="#2262cc"/>
<text x="160.35" y="444.85" font-size="7.1" font-weight="bold" fill="#222" textLength="34.87" lengthAdjust="spacingAndGlyphs">1.7189 x 10</text>
<text x="195.22" y="442.25" font-size="4.5" font-weight="bold" fill="#222" textLength="3.82" lengthAdjust="spacingAndGlyphs">-4</text>
<text x="214.10" y="444.85" font-size="7.1" font-weight="bold" fill="#222" textLength="34.87" lengthAdjust="spacingAndGlyphs">7.7352 x 10</text>
<text x="248.97" y="442.25" font-size="4.5" font-weight="bold" fill="#222" textLength="3.82" lengthAdjust="spacingAndGlyphs">-4</text>
<text x="26.00" y="457.05" font-size="7.1" fill="#2262cc" font-weight="bold" textLength="76.63" lengthAdjust="spacingAndGlyphs" >Glycerolipid metabolism</text>
<rect x="26" y="457.85" width="76.63" height="0.7" fill="#2262cc"/>
<text x="160.35" y="457.15" font-size="7.1" font-weight="bold" fill="#222" textLength="34.87" lengthAdjust="spacingAndGlyphs">3.1259 x 10</text>
<text x="195.22" y="454.55" font-size="4.5" font-weight="bold" fill="#222" textLength="3.82" lengthAdjust="spacingAndGlyphs">-4</text>
<text x="217.85" y="457.15" font-size="7.1" fill="#222" font-weight="bold" textLength="31.20" lengthAdjust="spacingAndGlyphs" >0.0013129</text>
<text x="26.00" y="469.45" font-size="7.1" fill="#2262cc" font-weight="bold" textLength="72.96" lengthAdjust="spacingAndGlyphs" >Fatty acid biosynthesis</text>
<rect x="26" y="470.25" width="72.96" height="0.7" fill="#2262cc"/>
<text x="160.35" y="469.55" font-size="7.1" font-weight="bold" fill="#222" textLength="34.87" lengthAdjust="spacingAndGlyphs">5.4608 x 10</text>
<text x="195.22" y="466.95" font-size="4.5" font-weight="bold" fill="#222" textLength="3.82" lengthAdjust="spacingAndGlyphs">-4</text>
<text x="217.85" y="469.55" font-size="7.1" fill="#222" font-weight="bold" textLength="31.20" lengthAdjust="spacingAndGlyphs" >0.0021502</text>
<text x="26.00" y="482.40" font-size="7.1" fill="#2262cc" font-weight="bold" textLength="123.19" lengthAdjust="spacingAndGlyphs" >Biosynthesis of unsaturated fatty acids</text>
<rect x="26" y="483.20" width="123.19" height="0.7" fill="#2262cc"/>
<text x="164.10" y="482.50" font-size="7.1" fill="#222" font-weight="bold" textLength="31.20" lengthAdjust="spacingAndGlyphs" >0.0013037</text>
<text x="217.85" y="482.50" font-size="7.1" fill="#222" font-weight="bold" textLength="31.20" lengthAdjust="spacingAndGlyphs" >0.0048314</text>
<text x="26.00" y="495.50" font-size="7.1" fill="#2262cc" font-weight="bold" textLength="93.50" lengthAdjust="spacingAndGlyphs" >Glycolysis / Gluconeogenesis</text>
<rect x="26" y="496.30" width="93.50" height="0.7" fill="#2262cc"/>
<text x="164.10" y="495.60" font-size="7.1" fill="#222" font-weight="bold" textLength="31.20" lengthAdjust="spacingAndGlyphs" >0.0022761</text>
<text x="217.85" y="495.60" font-size="7.1" fill="#222" font-weight="bold" textLength="31.20" lengthAdjust="spacingAndGlyphs" >0.0078132</text>
<text x="26.00" y="507.50" font-size="7.1" fill="#2262cc" font-weight="bold" textLength="74.42" lengthAdjust="spacingAndGlyphs" >Tryptophan metabolism</text>
<rect x="26" y="508.30" width="74.42" height="0.7" fill="#2262cc"/>
<text x="165.94" y="507.60" font-size="7.1" fill="#222" font-weight="bold" textLength="27.53" lengthAdjust="spacingAndGlyphs" >0.023612</text>
<text x="221.52" y="507.60" font-size="7.1" fill="#222" font-weight="bold" textLength="23.86" lengthAdjust="spacingAndGlyphs" >0.01289</text>
</g>
</g>
</svg>
</body></html>
